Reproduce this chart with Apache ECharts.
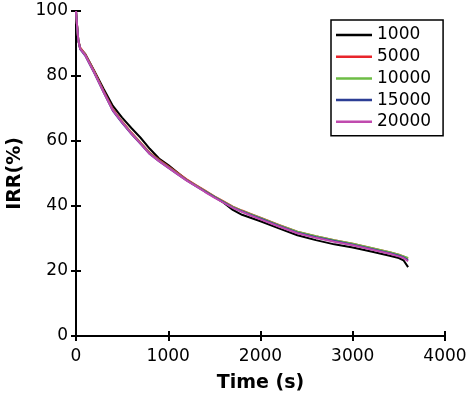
<!DOCTYPE html>
<html>
<head>
<meta charset="utf-8">
<script src="https://cdn.jsdelivr.net/npm/echarts@6/dist/echarts.min.js"></script>
<style>html,body{margin:0;padding:0;background:#fff;}#c{width:474px;height:395px;}</style>
</head>
<body>
<div id="c"></div>
<script>
const times = [0,10,25,45,100,200,300,400,500,600,700,800,900,1000,1100,1200,1300,1400,1500,1600,1700,1800,1900,2000,2200,2400,2600,2800,3000,3200,3400,3500,3550,3600];
const seriesNames = ['1000','5000','10000','15000','20000'];
const s1000  = [100,96,91,88.5,86.8,81.5,76,70.8,67.2,64,61,57.6,54.6,52.6,50.3,48,46.3,44.5,42.8,41,38.8,37.3,36.3,35.3,33.1,31,29.5,28.2,27.2,26,24.7,24,23.3,21.2];
const s5000  = [100,96,91,88.8,86.7,81.3,75.4,69.8,66,62.6,59.5,56.4,54.2,52.2,50.2,48.2,46.4,44.7,43,41.4,39.8,38.6,37.5,36.4,34.2,32.1,30.7,29.5,28.4,27.1,25.8,25,24.5,23.8];
const s10000 = [100,96,91,88.5,86.5,81,75.1,69.5,65.8,62.4,59.3,56.2,54,52,50,48,46.3,44.6,42.9,41.3,39.7,38.5,37.4,36.3,34.1,32.1,30.7,29.5,28.4,27.1,25.8,25,24.5,24];
const s15000 = [100,96,91,88.3,86.3,80.8,75,69.3,65.6,62.2,59.1,56,53.8,51.8,49.8,47.9,46.1,44.4,42.7,41.1,39.5,38.3,37.2,36.1,33.9,31.8,30.4,29.2,28.1,26.8,25.5,24.7,24.2,23.3];
const s20000 = [100,96,91,88.4,86.4,80.9,75,69.4,65.7,62.3,59.2,56,53.8,51.8,49.8,47.8,46.1,44.3,42.6,41,39.4,38.2,37,35.9,33.7,31.6,30.2,29,27.9,26.6,25.3,24.5,24,23];
const colors = ['#000000','#e8252b','#6dbd45','#2c3e95','#c04aae'];
const xTicks = [0,1000,2000,3000,4000];
const yTicks = [0,20,40,60,80,100];

const allData = [s1000,s5000,s10000,s15000,s20000];
const chart = echarts.init(document.getElementById('c'), null, {renderer:'canvas'});
const tickFont = {fontFamily:'DejaVu Sans', fontSize:17, color:'#000'};
const axisLine = {show:true, lineStyle:{color:'#000', width:2}};
const axisTick = {show:true, inside:true, length:5, lineStyle:{color:'#000', width:2}};
chart.setOption({
  animation:false,
  backgroundColor:'#fff',
  grid:{left:76, top:11, right:29, bottom:59, containLabel:false, outerBoundsMode:'none'},
  legend:{
    data:seriesNames, orient:'vertical', left:331, top:20,
    icon:'rect', itemWidth:36, itemHeight:2.5, itemGap:3.7,
    padding:[6,12,5,5],
    backgroundColor:'#fff', borderColor:'#000', borderWidth:1.5,
    textStyle:{fontFamily:'DejaVu Sans', fontSize:17, color:'#000', lineHeight:18}
  },
  xAxis:[
    {type:'value', min:xTicks[0], max:xTicks[xTicks.length-1], interval:1000, position:'bottom',
     axisLine:axisLine, axisTick:axisTick, splitLine:{show:false},
     axisLabel:Object.assign({margin:12, formatter:v=>String(v)}, tickFont),
     name:'Time (s)', nameLocation:'middle', nameGap:38,
     nameTextStyle:{fontFamily:'DejaVu Sans', fontWeight:'bold', fontSize:19, color:'#000'}},
    {type:'value', min:0, max:4000, interval:1000, position:'top',
     axisLine:axisLine, axisTick:axisTick, splitLine:{show:false}, axisLabel:{show:false}}
  ],
  yAxis:[
    {type:'value', min:yTicks[0], max:yTicks[yTicks.length-1], interval:20, position:'left',
     axisLine:axisLine, axisTick:axisTick, splitLine:{show:false},
     axisLabel:Object.assign({margin:8, formatter:v=>String(v)}, tickFont),
     name:'IRR(%)', nameLocation:'middle', nameGap:46, nameRotate:90,
     nameTextStyle:{fontFamily:'DejaVu Sans', fontWeight:'bold', fontSize:19, color:'#000'}},
    {type:'value', min:0, max:100, interval:20, position:'right',
     axisLine:axisLine, axisTick:axisTick, splitLine:{show:false}, axisLabel:{show:false}}
  ],
  series: seriesNames.map((n,i)=>({
    name:n, type:'line', symbol:'none', showSymbol:false,
    data: times.map((t,k)=>[t, allData[i][k]]),
    lineStyle:{color:colors[i], width:2}, itemStyle:{color:colors[i]},
    z:2+i
  }))
});
</script>
</body>
</html>
